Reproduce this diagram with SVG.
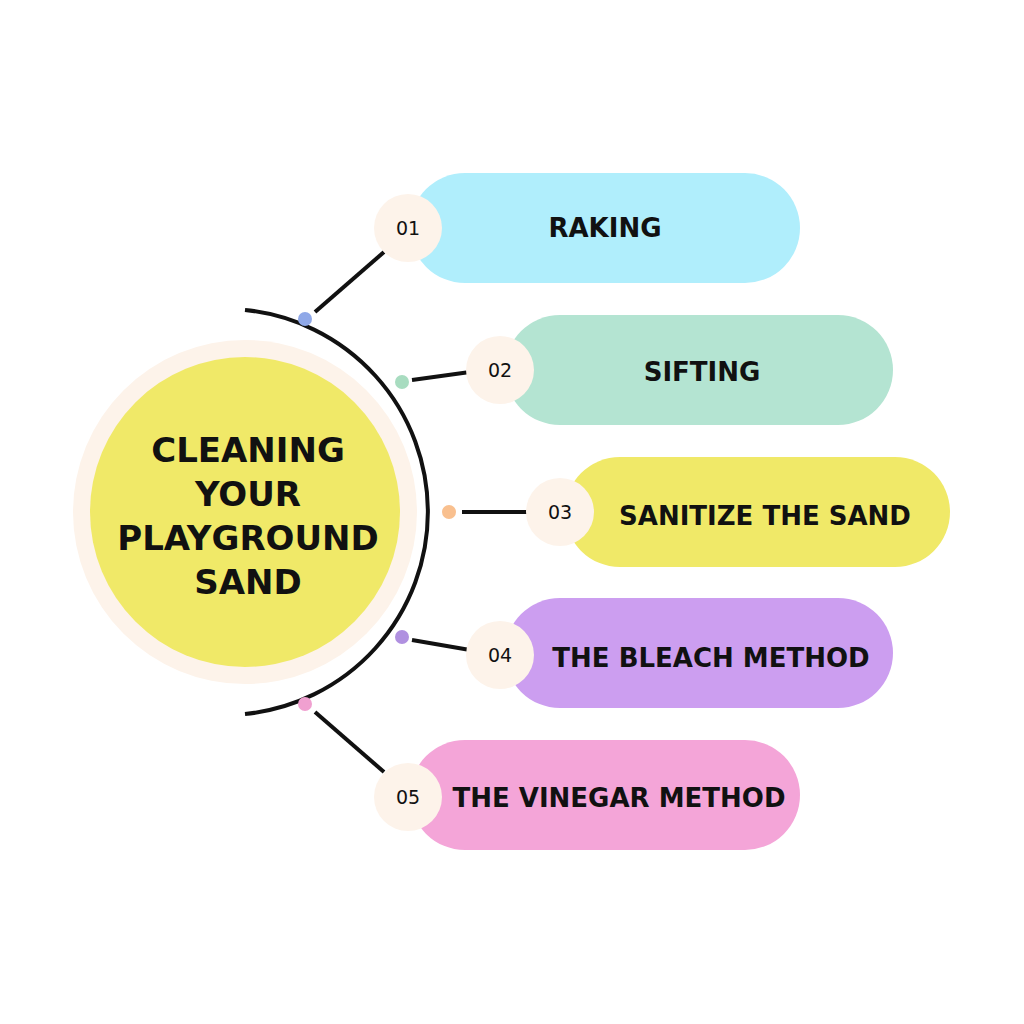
<svg xmlns="http://www.w3.org/2000/svg" width="1024" height="1024" viewBox="0 0 1024 1024">
<style>
.t{font-family:"DejaVu Sans","Liberation Sans",sans-serif;font-weight:bold;fill:#111;text-anchor:middle;dominant-baseline:central}
.lbl{font-size:26px}
.num{font-size:19px;font-weight:normal}
.ttl{font-size:34px}
.nc{fill:#fdf3ea}
.ln{stroke:#111;stroke-width:4;fill:none}
</style>
<rect width="1024" height="1024" fill="#fff"/>
<g id="center">
<circle cx="245" cy="512" r="172" fill="#fdf3ea"/>
<circle cx="245" cy="512" r="155" fill="#f0e968"/>
<text class="t ttl" x="248" y="450">CLEANING</text>
<text class="t ttl" x="248" y="494">YOUR</text>
<text class="t ttl" x="248" y="538">PLAYGROUND</text>
<text class="t ttl" x="248" y="582">SAND</text>
</g>
<g id="connectors">
<path class="ln" d="M245 310 A203 203 0 0 1 245 714"/>
<line class="ln" x1="315" y1="312" x2="384" y2="252"/>
<line class="ln" x1="412" y1="380" x2="470" y2="372"/>
<line class="ln" x1="462" y1="512" x2="527" y2="512"/>
<line class="ln" x1="412" y1="640" x2="470" y2="650"/>
<line class="ln" x1="315" y1="712" x2="384" y2="772"/>
<circle cx="305" cy="319" r="7" fill="#8fa8e8"/>
<circle cx="402" cy="382" r="7" fill="#a8dcc0"/>
<circle cx="449" cy="512" r="7" fill="#f9c08f"/>
<circle cx="402" cy="637" r="7" fill="#b090e0"/>
<circle cx="305" cy="704" r="7" fill="#f0a0d0"/>
</g>
<g id="n1"><rect x="410" y="173" width="390" height="110" rx="55" fill="#b0eefc"/><circle class="nc" cx="408" cy="228" r="34"/><text class="t num" x="408" y="228">01</text><text class="t lbl" x="605" y="228">RAKING</text></g>
<g id="n2"><rect x="505" y="315" width="388" height="110" rx="55" fill="#b4e4d2"/><circle class="nc" cx="500" cy="370" r="34"/><text class="t num" x="500" y="370">02</text><text class="t lbl" x="702" y="372">SIFTING</text></g>
<g id="n3"><rect x="565" y="457" width="385" height="110" rx="55" fill="#f0e968"/><circle class="nc" cx="560" cy="512" r="34"/><text class="t num" x="560" y="512">03</text><text class="t lbl" x="765" y="516">SANITIZE THE SAND</text></g>
<g id="n4"><rect x="505" y="598" width="388" height="110" rx="55" fill="#cc9ef0"/><circle class="nc" cx="500" cy="655" r="34"/><text class="t num" x="500" y="655">04</text><text class="t lbl" x="711" y="658">THE BLEACH METHOD</text></g>
<g id="n5"><rect x="410" y="740" width="390" height="110" rx="55" fill="#f4a5d8"/><circle class="nc" cx="408" cy="797" r="34"/><text class="t num" x="408" y="797">05</text><text class="t lbl" x="619" y="798">THE VINEGAR METHOD</text></g>
</svg>
